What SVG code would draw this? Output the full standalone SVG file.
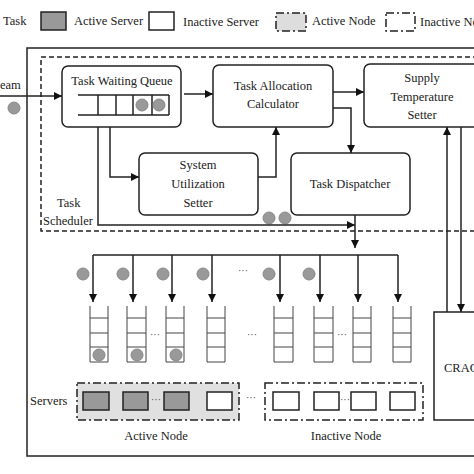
<svg xmlns="http://www.w3.org/2000/svg" width="474" height="474" viewBox="0 0 474 474">
<defs>
<marker id="ah" viewBox="0 0 10 10" refX="10" refY="5" markerWidth="9" markerHeight="8" markerUnits="userSpaceOnUse" orient="auto">
<path d="M0,0 L10,5 L0,10 z" fill="#111"/>
</marker>
</defs>
<style>
text{font-family:"Liberation Serif","Times New Roman",serif;font-size:12.5px;fill:#222}
.c{text-anchor:middle}
.box{fill:#fff;stroke:#222;stroke-width:1.5}
.ln{fill:none;stroke:#222;stroke-width:1.5}
.ar{fill:none;stroke:#222;stroke-width:1.5;marker-end:url(#ah)}
.tk{fill:#999;stroke:#888;stroke-width:1}
.as{fill:#999;stroke:#222;stroke-width:1.5}
.is{fill:#fff;stroke:#222;stroke-width:1.5}
.q{fill:none;stroke:#444;stroke-width:1}
.dots{font-size:10px;fill:#444}
</style>
<rect width="474" height="474" fill="#fff"/>

<g id="legend">
<text x="3" y="25">Task</text>
<rect x="41" y="12" width="25" height="18" class="as"/>
<text x="74" y="25">Active Server</text>
<rect x="149" y="12" width="25" height="18" class="is"/>
<text x="183" y="26">Inactive Server</text>
<rect x="276" y="13" width="30" height="18" fill="#ddd" stroke="#222" stroke-width="1.5" stroke-dasharray="8,3,2,3"/>
<text x="312" y="25">Active Node</text>
<rect x="386" y="13" width="29" height="18" fill="#fff" stroke="#222" stroke-width="1.5" stroke-dasharray="8,3,2,3"/>
<text x="420" y="26">Inactive Node</text>
</g>

<g id="frame">
<rect x="27" y="48" width="460" height="408" fill="none" stroke="#222" stroke-width="1.5"/>
</g>

<g id="scheduler">
<rect x="41" y="57" width="450" height="174" fill="none" stroke="#222" stroke-width="1.5" stroke-dasharray="5,3"/>
<text x="57" y="207">Task</text>
<text x="43" y="225">Scheduler</text>
</g>

<g id="input">
<text x="0" y="89">eam</text>
<circle cx="14" cy="108" r="6" class="tk"/>
</g>

<g id="queue">
<rect x="62" y="66" width="119" height="61" rx="6" class="box"/>
<text x="122" y="85" class="c">Task Waiting Queue</text>
<path d="M78,95 H169 M78,115 H169 M98,95 V115 M116,95 V115 M133,95 V115 M152,95 V115 M169,95 V115" class="ln" stroke-width="1"/>
<circle cx="142" cy="105" r="6" class="tk"/>
<circle cx="159" cy="105" r="6" class="tk"/>
</g>

<g id="calculator">
<rect x="213" y="65" width="120" height="62" rx="6" class="box"/>
<text x="273" y="90" class="c">Task Allocation</text>
<text x="273" y="108" class="c">Calculator</text>
</g>

<g id="supply">
<rect x="364" y="64" width="130" height="63" rx="6" class="box"/>
<text x="422" y="82" class="c">Supply</text>
<text x="422" y="101" class="c">Temperature</text>
<text x="422" y="119" class="c">Setter</text>
</g>

<g id="utilization">
<rect x="139" y="153" width="119" height="62" rx="6" class="box"/>
<text x="198" y="169" class="c">System</text>
<text x="198" y="188" class="c">Utilization</text>
<text x="198" y="207" class="c">Setter</text>
</g>

<g id="dispatcher">
<rect x="291" y="153" width="119" height="62" rx="6" class="box"/>
<text x="350" y="188" class="c">Task Dispatcher</text>
<circle cx="269" cy="218" r="6" class="tk"/>
<circle cx="285" cy="218" r="6" class="tk"/>
</g>

<g id="crac">
<rect x="434" y="312" width="60" height="108" class="box"/>
<text x="444" y="372">CRAC</text>
</g>

<g id="connectors">
<path d="M0,96 H62" class="ar"/>
<path d="M184,94 H213" class="ar"/>
<path d="M333,92 H364" class="ar"/>
<path d="M333,108 H351 V153" class="ar"/>
<path d="M258,177 H276 V127" class="ar"/>
<path d="M110,127 V177 H139" class="ar"/>
<path d="M98,127 V225 H355" class="ar"/>
<path d="M355,215 V248" class="ar"/>
<path d="M447,312 V127" class="ar"/>
<path d="M461,127 V312" class="ar"/>
<path d="M93,255 H398" class="ln"/>
<path d="M93,255 V302" class="ar"/>
<path d="M133,255 V302" class="ar"/>
<path d="M172,255 V302" class="ar"/>
<path d="M212,255 V302" class="ar"/>
<path d="M280,255 V302" class="ar"/>
<path d="M320,255 V302" class="ar"/>
<path d="M358,255 V302" class="ar"/>
<path d="M398,255 V302" class="ar"/>
</g>

<g id="waiting-tasks">
<circle cx="83" cy="274" r="6" class="tk"/>
<circle cx="123" cy="274" r="6" class="tk"/>
<circle cx="163" cy="274" r="6" class="tk"/>
<circle cx="203" cy="274" r="6" class="tk"/>
<circle cx="269" cy="274" r="6" class="tk"/>
<circle cx="309" cy="274" r="6" class="tk"/>
<text x="243" y="274" class="c dots">···</text>
</g>

<g id="server-queues">
<path d="M90,306 V362 H108 V306 M90,318 H108 M90,333 H108 M90,347 H108" class="q"/>
<path d="M127,306 V362 H146 V306 M127,318 H146 M127,333 H146 M127,347 H146" class="q"/>
<path d="M166,306 V362 H184 V306 M166,318 H184 M166,333 H184 M166,347 H184" class="q"/>
<path d="M207,306 V362 H225 V306 M207,318 H225 M207,333 H225 M207,347 H225" class="q"/>
<path d="M274,306 V362 H293 V306 M274,318 H293 M274,333 H293 M274,347 H293" class="q"/>
<path d="M314,306 V362 H333 V306 M314,318 H333 M314,333 H333 M314,347 H333" class="q"/>
<path d="M353,306 V362 H371 V306 M353,318 H371 M353,333 H371 M353,347 H371" class="q"/>
<path d="M393,306 V362 H411 V306 M393,318 H411 M393,333 H411 M393,347 H411" class="q"/>
<circle cx="99" cy="355" r="6" class="tk"/>
<circle cx="137" cy="355" r="6" class="tk"/>
<circle cx="176" cy="355" r="6" class="tk"/>
<text x="155" y="338" class="c dots">···</text>
<text x="252" y="338" class="c dots">···</text>
<text x="342" y="338" class="c dots">···</text>
</g>

<g id="active-node">
<rect x="77" y="383" width="162" height="37" fill="#e0e0e0" stroke="#222" stroke-width="1.5" stroke-dasharray="8,3,2,3"/>
<rect x="83" y="392" width="26" height="18" class="as"/>
<rect x="123" y="392" width="25" height="18" class="as"/>
<text x="156" y="403" class="c dots">···</text>
<rect x="164" y="392" width="25" height="18" class="as"/>
<rect x="207" y="392" width="25" height="18" class="is"/>
<text x="156" y="440" class="c">Active Node</text>
</g>

<text x="30" y="405">Servers</text>
<text x="251" y="401" class="c dots">···</text>

<g id="inactive-node">
<rect x="265" y="383" width="158" height="37" fill="#fff" stroke="#222" stroke-width="1.5" stroke-dasharray="8,3,2,3"/>
<rect x="273" y="392" width="26" height="18" class="is"/>
<rect x="314" y="392" width="25" height="18" class="is"/>
<text x="345" y="403" class="c dots">···</text>
<rect x="351" y="392" width="25" height="18" class="is"/>
<rect x="390" y="392" width="25" height="18" class="is"/>
<text x="346" y="440" class="c">Inactive Node</text>
</g>
</svg>
